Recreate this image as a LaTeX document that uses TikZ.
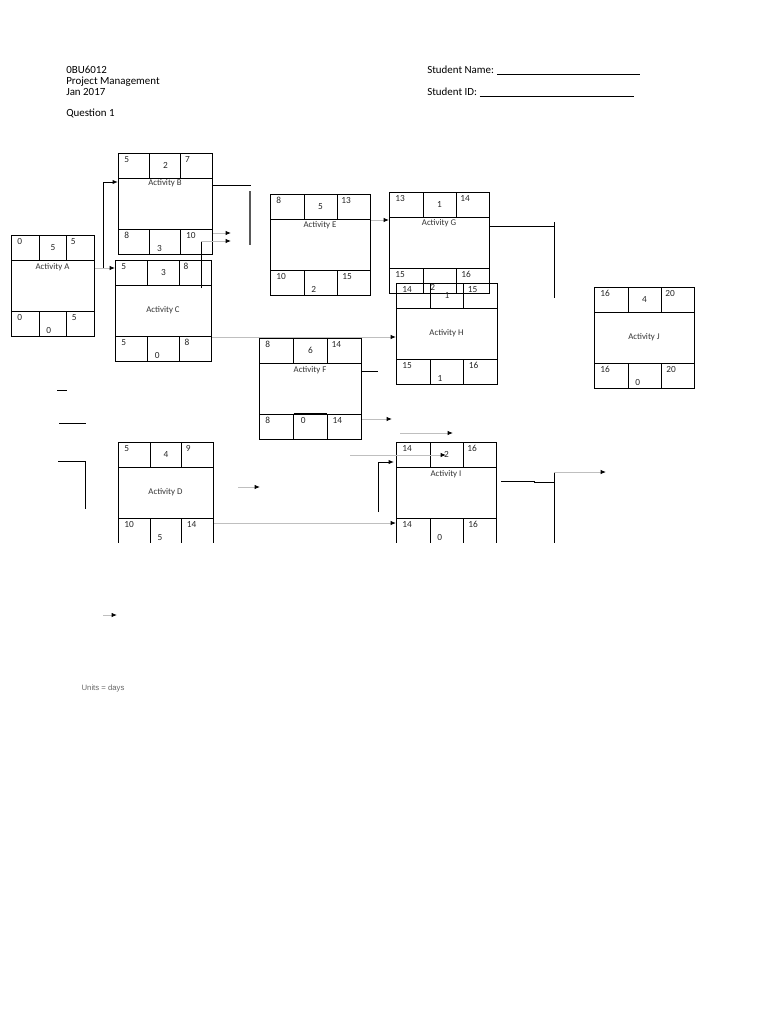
\documentclass[tikz,border=0pt]{standalone}
\usepackage{fontspec}
\setmainfont{Carlito}
\newfontfamily\unitsfont{Liberation Sans}
\usetikzlibrary{positioning,calc,arrows.meta}

\tikzset{
  actframe/.style={draw=black, line width=0.75pt, inner sep=0pt, anchor=north west},
  divider/.style={draw=black, line width=0.75pt},
  cellnum/.style={inner sep=0pt, anchor=north west, text=black!85, font=\fontsize{7}{8.4}\selectfont},
  midnum/.style={cellnum, anchor=north},
  actlabel/.style={inner sep=0pt, text=black!80, font=\fontsize{6.6}{8}\selectfont},
  headtext/.style={inner sep=0pt, anchor=base west, font=\fontsize{8.2}{10}\selectfont},
  rule/.style={draw=black, line width=0.75pt},
  feed/.style={rule, -{Latex[length=4pt,width=3.2pt]}},
  link/.style={draw=black!25, line width=0.6pt, -{Latex[length=4pt,width=3.2pt,color=black]}},
}

% box: name, x, y, width, label, label offset
\newcommand{\actbox}[6]{%
  \node[actframe, minimum width={#4*0.75pt}, minimum height={101*0.75pt}] (#1) at (#2,#3) {};
  \coordinate (#1-t1) at ({#2+0.34*#4},#3);
  \coordinate (#1-t2) at ({#2+0.67*#4},#3);
  \coordinate (#1-m) at (#2,#3+25);
  \coordinate (#1-b) at (#2,#3+76);
  \coordinate (#1-b1) at ({#2+0.34*#4},#3+76);
  \coordinate (#1-b2) at ({#2+0.67*#4},#3+76);
  \draw[divider] (#1-m) -- ++(#4,0) (#1-b) -- ++(#4,0)
    (#1-t1) -- ++(0,25) (#1-t2) -- ++(0,25)
    (#1-b1) -- ++(0,25) (#1-b2) -- ++(0,25);
  \node[actlabel] (#1-name) at ({#2+#4/2},#3+#6) {#5};
}
% numbers: name, ES, duration, EF, LS, slack, LF
\newcommand{\actnums}[7]{%
  \node[cellnum] (#1-es) at ($(#1.north west)+(6,3)$) {#2};
  \node[midnum] (#1-dur) at ($(#1-t1)!0.5!(#1-t2)+(0,9)$) {#3};
  \node[cellnum] (#1-ef) at ($(#1-t2)+(4,3)$) {#4};
  \node[cellnum] (#1-ls) at ($(#1-b)+(6,3)$) {#5};
  \node[cellnum] (#1-sl) at ($(#1-b1)+(7,16)$) {#6};
  \node[cellnum] (#1-lf) at ($(#1-b2)+(5,3)$) {#7};
}

\begin{document}
\begin{tikzpicture}[x=0.75pt,y=-0.75pt]
  \useasboundingbox (0,0) rectangle (768,1024);

  % Header
  \node[headtext] (course) at (66,73.5) {0BU6012};
  \node[headtext] (module) at (66,84.5) {Project Management};
  \node[headtext] (term) at (66,95) {Jan 2017};
  \node[headtext] (question) at (66,116.5) {Question 1};
  \node[headtext] (sname) at (427,73.5) {Student Name: \rule[-1pt]{107pt}{0.5pt}};
  \node[headtext] (sid) at (427,95) {Student ID: \rule[-1pt]{116pt}{0.5pt}};

  % Activities
  \actbox{A}{11}{235}{83}{Activity A}{32}
  \actnums{A}{0}{5}{5}{0}{0}{5}
  \actbox{B}{118}{153}{94}{Activity B}{30}
  \actnums{B}{5}{2}{7}{8}{3}{10}
  \actbox{C}{115}{260}{96}{Activity C}{50}
  \actnums{C}{5}{3}{8}{5}{0}{8}
  \actbox{E}{270}{194}{100}{Activity E}{31}
  \actnums{E}{8}{5}{13}{10}{2}{15}
  \actbox{G}{389}{192}{100}{Activity G}{31}
  \actnums{G}{13}{1}{14}{15}{2}{16}
  \actbox{H}{396}{283}{101}{Activity H}{50}
  \actnums{H}{14}{1}{15}{15}{1}{16}
  \actbox{J}{594}{287}{100}{Activity J}{50}
  \actnums{J}{16}{4}{20}{16}{0}{20}
  \actbox{F}{259}{338}{102}{Activity F}{32}
  \actnums{F}{8}{6}{14}{8}{}{14}
  \node[cellnum] (F-sl0) at ($(F-b1)+(7,3)$) {0};
  \draw[rule, line width=0.6pt] ($(F-b1)+(0,-1)$) -- ($(F-b2)+(0,-1)$);

  \begin{scope}
    \clip (0,0) rectangle (768,542);
    \actbox{D}{118}{442}{95}{Activity D}{50}
    \actnums{D}{5}{4}{9}{10}{5}{14}
    \actbox{I}{396}{442}{100}{Activity I}{32}
    \actnums{I}{14}{2}{16}{14}{0}{16}
    \draw[rule] (554,472) -- (554,560);
  \end{scope}

  % Links
  \coordinate (ab) at (103,268);
  \draw[link] ($(A.north east)+(0,33)$) -- ($(C.north west)+(0,8)$);
  \draw[feed] (ab) |- ($(B.north west)+(0,29)$);
  \draw[rule] ($(B.north east)+(0,32)$) -- ++(38,0);
  \draw[rule, draw=black!65, line width=0.9pt] (250,191) -- (250,245);
  \draw[link] ($(B.north east)+(0,80)$) -- ++(18,0);
  \draw[rule] (201,288) -- (201,241);
  \draw[link] (201,241) -- (231,241);
  \draw[link] ($(C.north east)+(0,77)$) -- ($(H.north west)+(0,54)$);
  \draw[link] ($(E.north east)+(0,26)$) -- ($(G.north west)+(0,28)$);
  \draw[rule] ($(G.north east)+(0,34)$) -- (554,226);
  \draw[rule] (554,222) -- (554,298);
  \draw[rule] ($(F.north east)+(0,33)$) -- ++(16,0);
  \draw[link] ($(F.north east)+(0,81)$) -- ++(30,0);
  \draw[link] (400,433) -- (453,433);
  \draw[link] (350,455) -- (446,455);
  \draw[feed] (378,512) |- ($(I.north west)+(-2,20)$);
  \draw[link] ($(D.north east)+(0,81)$) -- ($(I.north west)+(0,81)$);
  \draw[rule] ($(I.north east)+(4,39)$) -- ++(33,0) -- ++(0,1) -- (554,482);
  \draw[link] (554,472) -- (606,472);
  \draw[link] (238,487) -- (260,487);

  % Stray marks
  \draw[rule] (57,390) -- (67,390);
  \draw[rule] (59,423) -- (86,423);
  \draw[rule] (58,461) -- (85,461) -- (85,509);
  \draw[link] (103,615) -- (117,615);

  \node[inner sep=0pt, text=black!60, font=\unitsfont\fontsize{5.8}{7}\selectfont] (units) at (103,688) {Units = days};
\end{tikzpicture}
\end{document}
